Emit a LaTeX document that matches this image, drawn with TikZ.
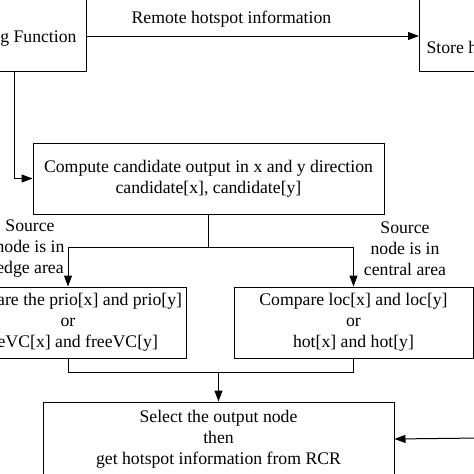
\documentclass[tikz,border=0pt]{standalone}
\usepackage{fontspec}
\setmainfont{Liberation Serif}
\usetikzlibrary{positioning, arrows.meta}
\tikzset{
        ->,  % directed connectors
        >={Triangle[length=11pt, width=8pt]}, % filled arrow heads
        x=1pt, y=-1pt, % work in pixels of the sheet, y going down
        every node/.style={font=\fontsize{17.7}{21}\selectfont},
        box/.style={draw, line width=1pt, align=center, inner sep=0pt}, % the process boxes
        cond/.style={align=center, inner sep=0pt}, % the branch conditions
        }
\begin{document}
\begin{tikzpicture}[line width=1pt]
        \useasboundingbox (0,0) rectangle (474,474);
        \clip (0,0) rectangle (474,474);
        % boxes
        \node[box, anchor=base east, text height=47pt, text depth=29pt, inner xsep=10pt] (Routing) at (87,42) {Routing Function};
        \node[box, anchor=base west, text height=58pt, text depth=18pt, inner xsep=7pt] (Store) at (419,53) {Store hotspot information};
        \node[box, minimum width=351pt, minimum height=71pt] (Compute) at (208.5,178.5) {Compute candidate output in x and y direction\\candidate[x], candidate[y]};
        \node[box, minimum width=236pt, minimum height=71pt] (ComparePrio) at (68,322.5) {Compare the prio[x] and prio[y]\\or\\freeVC[x] and freeVC[y]};
        \node[box, minimum width=239pt, minimum height=71pt] (CompareLoc) at (353.5,322.5) {Compare loc[x] and loc[y]\\or\\hot[x] and hot[y]};
        \node[box, minimum width=351pt, minimum height=74pt] (Select) at (218.5,439) {Select the output node\\then\\get hotspot information from RCR};
        % conditions
        \node[cond] (EdgeArea) at (30,249) {Source\\node is in\\edge area};
        \node[cond] (CentralArea) at (405,249) {Source\\node is in\\central area};
        \coordinate (Back) at (480,438);

        \draw ([yshift=-3pt]Routing.east) -- node[pos=0.435, above=5pt]{Remote hotspot information} ([yshift=-3pt]Store.west);
        \draw ([xshift=-73pt]Routing.south east) |- (Compute.west);
        \draw[-] (Compute.south) -- ++(0,33) coordinate (Split);
        \draw (Split) -| (ComparePrio.north);
        \draw (Split) -| (CompareLoc.north);
        \draw[-] (ComparePrio.south) -- ++(0,14) coordinate (Merge) -| (CompareLoc.south);
        \draw (Merge -| Select.north) -- (Select.north);
        \draw (Back) -- (Select.east);
\end{tikzpicture}
\end{document}
